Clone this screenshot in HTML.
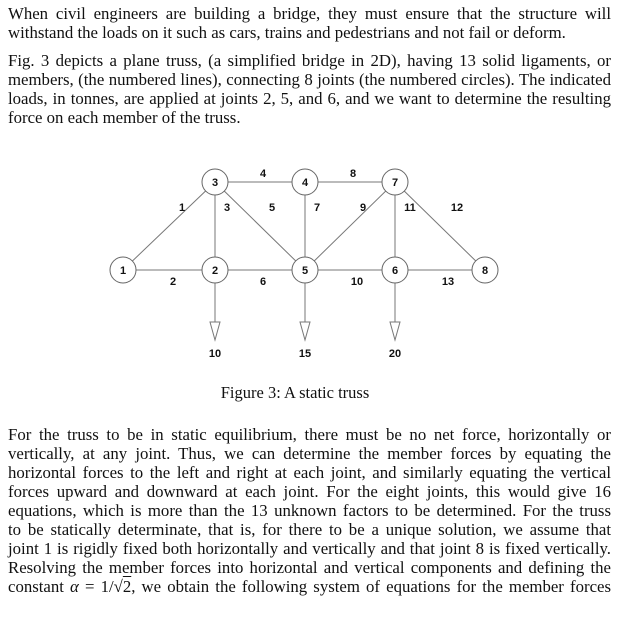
<!DOCTYPE html>
<html><head><meta charset="utf-8"><style>
body{margin:0;background:#fff;width:640px;height:621px;position:relative;overflow:hidden}
.l{position:absolute;left:8px;width:603px;font-family:"Liberation Serif",serif;font-size:16.8px;line-height:19px;height:19px;text-align:justify;text-align-last:justify;white-space:nowrap;color:#111}
.l.n{text-align-last:left}
svg{position:absolute;left:0;top:0}
</style></head><body>
<div class="l" style="top:4px">When civil engineers are building a bridge, they must ensure that the structure will</div>
<div class="l n" style="top:23px">withstand the loads on it such as cars, trains and pedestrians and not fail or deform.</div>
<div class="l" style="top:51px">Fig. 3 depicts a plane truss, (a simplified bridge in 2D), having 13 solid ligaments, or</div>
<div class="l" style="top:70px">members, (the numbered lines), connecting 8 joints (the numbered circles). The indicated</div>
<div class="l" style="top:89px">loads, in tonnes, are applied at joints 2, 5, and 6, and we want to determine the resulting</div>
<div class="l n" style="top:108px">force on each member of the truss.</div>

<svg width="640" height="621" font-family="Liberation Sans, sans-serif" font-weight="bold" font-size="11">
<g stroke="#777" stroke-width="1" fill="none">
<line x1="123" y1="270" x2="485" y2="270"/>
<line x1="215" y1="182" x2="395" y2="182"/>
<line x1="123" y1="270" x2="215" y2="182"/>
<line x1="215" y1="182" x2="215" y2="270"/>
<line x1="215" y1="182" x2="305" y2="270"/>
<line x1="305" y1="182" x2="305" y2="270"/>
<line x1="395" y1="182" x2="305" y2="270"/>
<line x1="395" y1="182" x2="395" y2="270"/>
<line x1="395" y1="182" x2="485" y2="270"/>
<line x1="215" y1="283" x2="215" y2="322"/>
<line x1="305" y1="283" x2="305" y2="322"/>
<line x1="395" y1="283" x2="395" y2="322"/>
<polygon points="210,322 220,322 215,340" fill="#fff"/>
<polygon points="300,322 310,322 305,340" fill="#fff"/>
<polygon points="390,322 400,322 395,340" fill="#fff"/>
</g>
<g stroke="#666" fill="#fff">
<circle cx="123" cy="270" r="13"/><circle cx="215" cy="270" r="13"/><circle cx="305" cy="270" r="13"/><circle cx="395" cy="270" r="13"/><circle cx="485" cy="270" r="13"/>
<circle cx="215" cy="182" r="13"/><circle cx="305" cy="182" r="13"/><circle cx="395" cy="182" r="13"/>
</g>
<g text-anchor="middle" fill="#111">
<text x="123" y="274">1</text><text x="215" y="274">2</text><text x="305" y="274">5</text><text x="395" y="274">6</text><text x="485" y="274">8</text>
<text x="215" y="186">3</text><text x="305" y="186">4</text><text x="395" y="186">7</text>
<text x="263" y="177">4</text><text x="353" y="177">8</text>
<text x="182" y="211">1</text><text x="227" y="211">3</text><text x="272" y="211">5</text><text x="317" y="211">7</text><text x="363" y="211">9</text><text x="410" y="211">11</text><text x="457" y="211">12</text>
<text x="173" y="285">2</text><text x="263" y="285">6</text><text x="357" y="285">10</text><text x="448" y="285">13</text>
<text x="215" y="357">10</text><text x="305" y="357">15</text><text x="395" y="357">20</text>
</g>
<text x="295" y="398" text-anchor="middle" font-family="Liberation Serif, serif" font-weight="normal" font-size="16.5" fill="#111">Figure 3: A static truss</text>
</svg>

<div class="l" style="top:425px">For the truss to be in static equilibrium, there must be no net force, horizontally or</div>
<div class="l" style="top:444px">vertically, at any joint. Thus, we can determine the member forces by equating the</div>
<div class="l" style="top:463px">horizontal forces to the left and right at each joint, and similarly equating the vertical</div>
<div class="l" style="top:482px">forces upward and downward at each joint. For the eight joints, this would give 16</div>
<div class="l" style="top:501px">equations, which is more than the 13 unknown factors to be determined. For the truss</div>
<div class="l" style="top:520px">to be statically determinate, that is, for there to be a unique solution, we assume that</div>
<div class="l" style="top:539px">joint 1 is rigidly fixed both horizontally and vertically and that joint 8 is fixed vertically.</div>
<div class="l" style="top:558px">Resolving the member forces into horizontal and vertical components and defining the</div>
<div class="l" style="top:577px">constant <i>α</i> = 1/√<span style="text-decoration:overline">2</span>, we obtain the following system of equations for the member forces</div>
</body></html>
